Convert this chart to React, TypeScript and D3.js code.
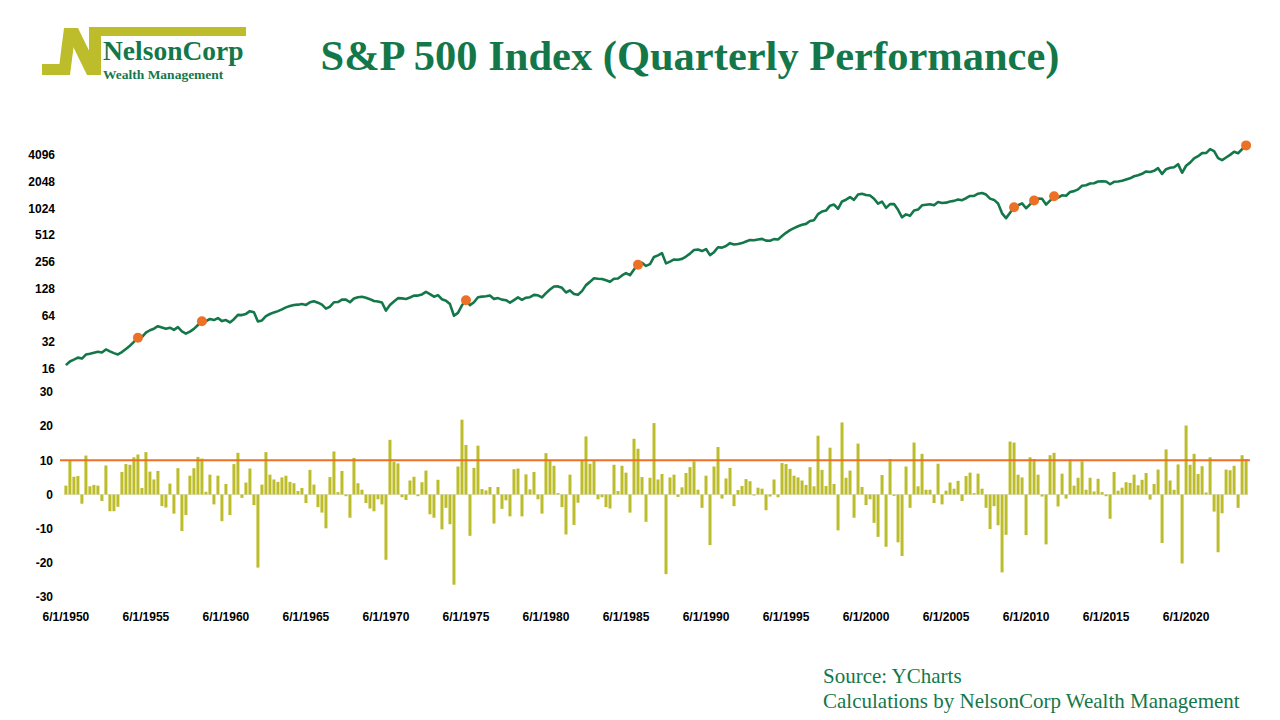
import React from 'react';
import * as d3 from 'd3';

// S&P 500 close at the end of each quarter, Q2 1950 .. Q1 2024
const spxClose: number[] = [
  17.69, 19.45, 20.41, 21.48, 20.96, 23.26, 23.77, 24.37, 24.96, 24.54, 26.57, 25.29, 24.14, 23.35, 24.81,
  26.94, 29.21, 32.31, 35.98, 36.58, 41.03, 43.67, 45.48, 48.48, 46.97, 45.35, 46.67, 44.11, 47.37,
  42.42, 39.99, 42.1, 45.24, 50.06, 55.21, 55.44, 58.47, 56.88, 59.89, 55.34, 56.92, 53.52, 58.11, 65.06,
  64.64, 66.73, 71.55, 69.55, 54.75, 56.27, 63.1, 66.57, 69.37, 71.7, 75.02, 78.98, 81.69, 84.18, 84.75,
  86.16, 84.12, 89.96, 92.43, 89.23, 84.74, 76.56, 80.33, 90.2, 90.64, 96.71, 96.47, 90.2, 99.58, 102.67,
  103.86, 101.51, 97.71, 93.12, 92.06, 89.63, 72.72, 84.21, 92.15, 100.31, 99.7, 98.34, 102.09, 107.2, 107.14,
  110.55, 118.05, 111.52, 104.26, 108.43, 97.55, 93.98, 86.0, 63.54, 68.56, 83.36, 95.19, 83.87, 90.19, 102.77,
  104.28, 105.24, 107.46, 98.42, 100.48, 96.53, 95.1, 89.21, 95.53, 102.54, 96.11, 101.59, 102.91, 109.32, 107.94,
  102.09, 114.24, 125.46, 135.76, 136.0, 131.21, 116.18, 122.55, 111.96, 109.61, 120.42, 140.64, 152.96, 168.11, 166.07,
  164.93, 159.18, 153.18, 166.1, 167.24, 180.66, 191.85, 182.08, 211.28, 238.9, 250.84, 231.32, 242.17, 291.7, 304.0,
  321.83, 247.08, 258.89, 273.5, 271.91, 277.72, 294.87, 317.98, 349.15, 353.4, 339.94, 358.02, 306.05, 330.22, 375.22,
  371.16, 387.86, 417.09, 403.69, 408.14, 417.8, 435.71, 451.67, 450.53, 458.93, 466.45, 445.77, 444.27, 462.69, 459.27,
  500.71, 544.75, 584.41, 615.93, 645.5, 670.63, 687.31, 740.74, 757.12, 885.14, 947.28, 970.43, 1101.75, 1133.84, 1017.01,
  1229.23, 1286.37, 1372.71, 1282.71, 1469.25, 1498.58, 1454.6, 1436.51, 1320.28, 1160.33, 1224.42, 1040.94, 1148.08, 1147.39, 989.82,
  815.28, 879.82, 848.18, 974.5, 995.97, 1111.92, 1126.21, 1140.84, 1114.58, 1211.92, 1180.59, 1191.33, 1228.81, 1248.29, 1294.83,
  1270.2, 1335.85, 1418.3, 1420.86, 1503.35, 1526.75, 1468.36, 1322.7, 1280.0, 1166.36, 903.25, 797.87, 919.32, 1057.08, 1115.1,
  1169.43, 1030.71, 1141.2, 1257.64, 1325.83, 1320.64, 1131.42, 1257.6, 1408.47, 1362.16, 1440.67, 1426.19, 1569.19, 1606.28, 1681.55,
  1848.36, 1872.34, 1960.23, 1972.29, 2058.9, 2067.89, 2063.11, 1920.03, 2043.94, 2059.74, 2098.86, 2168.27, 2238.83, 2362.72, 2423.41,
  2519.36, 2673.61, 2640.87, 2718.37, 2913.98, 2506.85, 2834.4, 2941.76, 2976.74, 3230.78, 2584.59, 3100.29, 3363.0, 3756.07,
  3972.89, 4297.5, 4307.54, 4766.18, 4530.41, 3785.38, 3585.62, 3839.5, 4109.31, 4450.38, 4288.05, 4769.83, 5254.35,
];

// quarterly % change, same quarters
const qReturns: number[] = [
  2.6, 9.9, 5.2, 5.4, -2.7, 11.4, 2.4, 2.8, 2.6, -1.9, 8.5, -4.9, -4.9, -3.6, 6.6,
  8.9, 8.7, 10.9, 11.7, 1.9, 12.4, 6.7, 4.4, 6.9, -3.4, -3.8, 3.2, -5.6, 7.7,
  -10.7, -6.0, 5.5, 7.7, 11.0, 10.5, 0.8, 5.8, -2.9, 5.5, -7.8, 3.1, -6.0, 8.9, 12.2,
  -1.0, 3.5, 7.6, -3.1, -21.4, 2.9, 12.4, 5.8, 4.4, 3.7, 5.0, 5.5, 3.7, 3.3, 1.0,
  1.9, -2.5, 7.2, 2.9, -3.7, -5.3, -9.9, 5.1, 12.6, 0.7, 6.9, -0.5, -6.8, 10.7, 3.3,
  1.4, -2.5, -4.1, -4.9, -1.4, -2.9, -19.1, 16.0, 9.6, 9.1, -0.8, -1.6, 4.1, 5.2, -0.5,
  3.6, 7.0, -5.8, -6.8, 4.3, -10.2, -3.9, -8.7, -26.4, 8.2, 21.9, 14.5, -12.1, 7.8, 14.3,
  1.6, 1.2, 2.2, -8.5, 2.2, -4.2, -1.7, -6.4, 7.4, 7.6, -6.4, 5.9, 1.5, 6.6, -1.4,
  -5.6, 12.1, 9.9, 8.4, 0.4, -3.7, -11.7, 5.8, -8.9, -2.4, 9.9, 17.0, 9.0, 9.9, -1.4,
  -0.8, -3.7, -4.1, 8.7, 1.0, 8.4, 6.4, -5.3, 16.3, 13.4, 5.1, -8.0, 4.9, 20.9, 4.4,
  6.0, -23.3, 5.0, 5.8, -0.7, 2.1, 6.3, 8.0, 9.7, 1.4, -3.9, 5.5, -14.8, 8.2, 13.9,
  -1.2, 4.7, 7.8, -3.4, 1.3, 2.5, 4.5, 3.9, -0.3, 2.0, 1.7, -4.6, -0.6, 4.4, -0.8,
  9.2, 8.9, 7.5, 5.5, 5.0, 4.1, 2.8, 8.0, 2.4, 17.2, 7.2, 2.5, 13.7, 3.1, -10.5,
  21.1, 4.9, 7.0, -6.8, 14.9, 2.2, -3.1, -1.4, -8.3, -12.4, 5.7, -15.3, 10.4, -0.4, -14.0,
  -18.0, 8.2, -3.9, 15.2, 2.4, 11.9, 1.4, 1.4, -2.5, 9.0, -2.9, 1.1, 3.5, 1.7, 4.0,
  -1.9, 5.4, 6.4, 0.4, 6.1, 1.7, -3.9, -10.1, -3.4, -9.0, -22.8, -11.8, 15.5, 15.2, 5.8,
  5.0, -11.9, 10.9, 10.4, 5.8, -0.6, -14.6, 11.5, 12.2, -3.5, 6.1, -1.2, 10.2, 2.6, 4.9,
  9.7, 1.4, 4.9, 0.9, 4.6, 0.7, -0.5, -7.1, 6.6, 1.1, 2.0, 3.6, 3.4, 5.8, 2.7,
  4.3, 6.3, -1.5, 3.1, 7.3, -14.2, 13.2, 4.1, 1.4, 8.8, -20.2, 20.2, 8.7, 11.9,
  6.0, 8.3, 0.6, 10.9, -5.0, -16.9, -5.5, 7.3, 7.1, 8.4, -3.9, 11.5, 10.4,
];

// quarters that close a run of two straight 10%+ quarters (orange dots)
const dotQuarters: number[] = [18, 34, 100, 143, 237, 242, 247, 295];

const xTickLabels: string[] = [
  '6/1/1950', '6/1/1955', '6/1/1960', '6/1/1965', '6/1/1970', '6/1/1975', '6/1/1980', '6/1/1985',
  '6/1/1990', '6/1/1995', '6/1/2000', '6/1/2005', '6/1/2010', '6/1/2015', '6/1/2020',
];
const quartersPerTick = 20;
const priceTicks: number[] = [16, 32, 64, 128, 256, 512, 1024, 2048, 4096];
const returnTicks: number[] = [30, 20, 10, 0, -10, -20, -30];
const threshold = 10;

const GREEN = '#14774a';
const OLIVE = '#bdbd2c';
const ORANGE = '#ec7127';
const AXIS_FONT = '"Liberation Sans", Arial, sans-serif';
const SERIF = '"Liberation Serif", "Times New Roman", serif';

const App: React.FC = () => {
  const quarters = qReturns.map((_, i) => i);

  const x = d3.scaleBand<number>()
    .domain(quarters)
    .range([64, 1248])
    .paddingInner(0.25)
    .paddingOuter(0.1);
  const cx = (i: number) => (x(i) ?? 0) + x.bandwidth() / 2;

  const yPrice = d3.scaleLog().base(2).domain([16, 4096]).range([369, 155]);
  const yRet = d3.scaleLinear().domain([-30, 30]).range([597, 392]);

  const line = d3.line<number>()
    .x((_, i) => cx(i))
    .y(d => yPrice(d))
    .curve(d3.curveLinear);

  return (
    <svg width={1280} height={720} style={{ position: 'absolute', left: 0, top: 0, background: '#fff' }}>
      <rect width={1280} height={720} fill="#fff" />

      {/* logo */}
      <g fill={OLIVE}>
        <rect x={42} y={64} width={24} height={11} />
        <polygon points="58,75 70,75 76,28 64,28" />
        <polygon points="64,28 78,28 101,75 87,75" />
        <polygon points="89,75 101,75 101,28 89,28" />
        <rect x={89} y={27} width={157} height={9} />
      </g>
      <text x={103} y={60} fontFamily={SERIF} fontWeight="bold" fontSize={27.5} fill={GREEN}>NelsonCorp</text>
      <text x={103} y={78.5} fontFamily={SERIF} fontWeight="bold" fontSize={13.5} fill={GREEN}>Wealth Management</text>

      {/* title */}
      <text x={690} y={70} textAnchor="middle" fontFamily={SERIF} fontWeight="bold" fontSize={42.5} fill={GREEN}>
        S&amp;P 500 Index (Quarterly Performance)
      </text>

      {/* price axis */}
      {priceTicks.map(t => (
        <text key={`p${t}`} x={55} y={yPrice(t)} dy="0.35em" textAnchor="end"
          fontFamily={AXIS_FONT} fontWeight="bold" fontSize={12} fill="#000">{t}</text>
      ))}

      {/* price line */}
      <path d={line(spxClose) ?? ''} fill="none" stroke={GREEN} strokeWidth={2.6} strokeLinejoin="round" />
      {dotQuarters.map(q => (
        <circle key={`d${q}`} cx={cx(q)} cy={yPrice(spxClose[q])} r={5} fill={ORANGE} />
      ))}

      {/* returns axis */}
      {returnTicks.map(t => (
        <text key={`r${t}`} x={53} y={yRet(t)} dy="0.35em" textAnchor="end"
          fontFamily={AXIS_FONT} fontWeight="bold" fontSize={12} fill="#000">{t}</text>
      ))}
      <line x1={x.range()[0]} x2={x.range()[1]} y1={yRet(0)} y2={yRet(0)} stroke="#e6e6e6" strokeWidth={1} />

      {/* return bars */}
      {qReturns.map((v, i) => (
        <rect key={`b${i}`} x={x(i)} width={x.bandwidth()}
          y={yRet(Math.max(0, v))} height={Math.abs(yRet(v) - yRet(0))} fill={OLIVE} />
      ))}

      {/* 10% line */}
      <line x1={x.range()[0] - 4} x2={x.range()[1] + 2} y1={yRet(threshold)} y2={yRet(threshold)}
        stroke={ORANGE} strokeWidth={2} />

      {/* x labels */}
      {xTickLabels.map((lab, k) => (
        <text key={lab} x={cx(k * quartersPerTick)} y={621} textAnchor="middle"
          fontFamily={AXIS_FONT} fontWeight="bold" fontSize={12} fill="#000">{lab}</text>
      ))}

      {/* source */}
      <text x={823} y={683} fontFamily={SERIF} fontSize={21} fill={GREEN}>Source: YCharts</text>
      <text x={823} y={708} fontFamily={SERIF} fontSize={21} fill={GREEN}>Calculations by NelsonCorp Wealth Management</text>
    </svg>
  );
};

export default App;
